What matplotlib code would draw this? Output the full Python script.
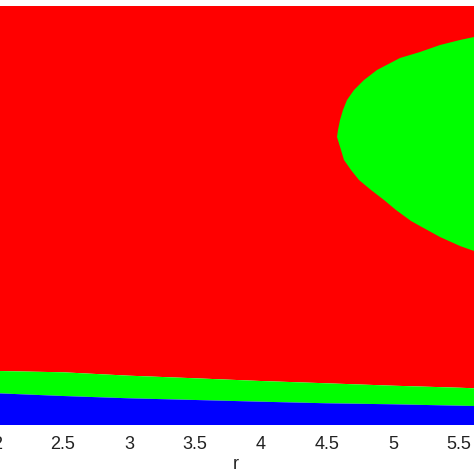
import matplotlib
matplotlib.use("Agg")
import matplotlib.pyplot as plt
import numpy as np

# Region boundaries (y in arbitrary units 0..1)
r_grid = [2.0, 2.5, 3.0, 3.5, 4.0, 4.5, 5.0, 5.5, 5.62]
green_top = [0.1289, 0.1258, 0.1177, 0.1115, 0.1050, 0.0995, 0.0938, 0.0890, 0.0876]
blue_top = [0.0757, 0.0692, 0.0637, 0.0597, 0.0556, 0.0518, 0.0494, 0.0461, 0.0453]

# Green island boundary (upper branch then lower branch)
ell_r = [5.70, 5.6136, 5.5076, 5.3561, 5.2045, 5.0530, 4.8788, 4.7803, 4.7045,
         4.6515, 4.6212, 4.5985, 4.5833, 4.5758, 4.6061, 4.6288, 4.6818, 4.7424,
         4.8333, 4.9318, 5.0227, 5.1364, 5.2045, 5.3561, 5.5076, 5.6136, 5.70]
ell_y = [0.9260, 0.9260, 0.9189, 0.9069, 0.8902, 0.8759, 0.8473, 0.8234, 0.7995,
         0.7757, 0.7518, 0.7279, 0.7041, 0.6874, 0.6563, 0.6325, 0.6086, 0.5847,
         0.5609, 0.5370, 0.5131, 0.4869, 0.4749, 0.4487, 0.4272, 0.4153, 0.4153]

xticks = [2, 2.5, 3, 3.5, 4, 4.5, 5, 5.5]
xticklabels = ["2", "2.5", "3", "3.5", "4", "4.5", "5", "5.5"]

RED, GREEN, BLUE = "#ff0000", "#00ff00", "#0000ff"

plt.rcParams['font.family'] = ['Liberation Sans', 'DejaVu Sans']
fig = plt.figure(figsize=(4.74, 4.74), dpi=100)
W = H = 474.0
ax = fig.add_axes([-3 / W, 49 / H, 477 / W, 419 / H])
ax.set_xlim(2.0, 2.0 + 477 / 132)
ax.set_ylim(0, 1)

ax.fill_between(r_grid, green_top, 1.0, color=RED, linewidth=0)
ax.fill_between(r_grid, blue_top, green_top, color=GREEN, linewidth=0)
ax.fill_between(r_grid, 0, blue_top, color=BLUE, linewidth=0)
ax.fill(ell_r, ell_y, color=GREEN, linewidth=0)

ax.set_xticks(xticks)
ax.set_xticklabels(xticklabels)
ax.tick_params(axis='x', length=0, pad=8, labelsize=13, colors='#222222')
ax.set_yticks([])
for s in ax.spines.values():
    s.set_visible(False)
ax.set_xlabel("r", fontsize=13, labelpad=2, color='#222222')

fig.savefig("out.png", dpi=100)
